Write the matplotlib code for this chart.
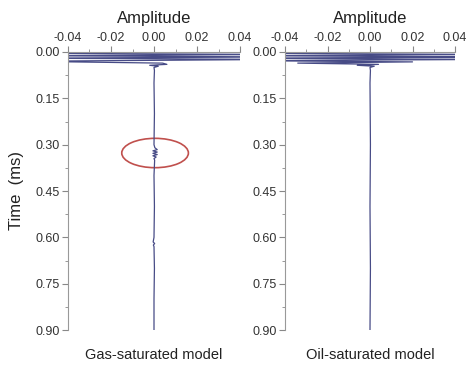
import matplotlib
matplotlib.use("Agg")
import matplotlib.pyplot as plt
from matplotlib.patches import Ellipse
from matplotlib.ticker import MultipleLocator

plt.rcParams['font.family'] = ['Liberation Sans', 'DejaVu Sans']

# gas-saturated trace: time (ms) and amplitude
gas_time = [0.000, 0.004, 0.008, 0.012, 0.016, 0.020, 0.024, 0.030, 0.036,
            0.040, 0.043, 0.046, 0.050, 0.060, 0.100, 0.200, 0.300, 0.310,
            0.316, 0.320, 0.324, 0.328, 0.332, 0.336, 0.340, 0.345, 0.350,
            0.400, 0.500, 0.600, 0.615, 0.620, 0.625, 0.630, 0.700, 0.800, 0.900]
gas_amp = [0.000, -0.060, 0.060, -0.060, 0.060, -0.060, 0.060, -0.060, 0.004,
           0.006, -0.002, 0.002, 0.000, 0.0002, 0.000, 0.0002, 0.000, 0.0004,
           0.0015, -0.0005, 0.0015, -0.0005, 0.0015, -0.0005, 0.0010, 0.000, 0.0003,
           0.000, 0.0002, 0.000, -0.0004, 0.0003, -0.0003, 0.000, 0.0002, 0.000, 0.000]

# oil-saturated trace
oil_time = [0.000, 0.004, 0.008, 0.012, 0.016, 0.020, 0.024, 0.028, 0.032,
            0.036, 0.040, 0.043, 0.046, 0.050, 0.060, 0.100, 0.300, 0.500,
            0.700, 0.900]
oil_amp = [0.000, -0.060, 0.060, -0.060, 0.060, -0.060, 0.060, -0.060, 0.020,
           -0.034, 0.004, -0.006, 0.002, 0.000, 0.0002, 0.000, 0.0002, 0.000,
           0.0002, 0.000]

x_ticks = [-0.04, -0.02, 0.00, 0.02, 0.04]
y_ticks = [0.00, 0.15, 0.30, 0.45, 0.60, 0.75, 0.90]
titles = ['Gas-saturated model', 'Oil-saturated model']

fig = plt.figure(figsize=(4.74, 3.75), dpi=100)
ax1 = fig.add_axes([68 / 474, 1 - 330 / 375, 172 / 474, 278 / 375])
ax2 = fig.add_axes([285 / 474, 1 - 330 / 375, 170 / 474, 278 / 375])

line_col = '#474b86'
for ax, t, a, name in [(ax1, gas_time, gas_amp, titles[0]),
                       (ax2, oil_time, oil_amp, titles[1])]:
    ax.plot(a, t, color=line_col, lw=0.9)
    ax.set_xlim(-0.04, 0.04)
    ax.set_ylim(0.90, 0.00)
    ax.xaxis.tick_top()
    ax.xaxis.set_label_position('top')
    ax.set_xticks(x_ticks)
    ax.set_xticklabels(['%.2f' % v for v in x_ticks])
    ax.set_yticks(y_ticks)
    ax.set_yticklabels(['%.2f' % v for v in y_ticks])
    ax.xaxis.set_minor_locator(MultipleLocator(0.01))
    ax.yaxis.set_minor_locator(MultipleLocator(0.075))
    ax.tick_params(which='both', direction='out', colors='#888888',
                   labelcolor='#333333', labelsize=9, pad=2)
    ax.tick_params(which='major', length=4)
    ax.tick_params(which='minor', length=2.5)
    for s in ['right', 'bottom']:
        ax.spines[s].set_visible(False)
    for s in ['left', 'top']:
        ax.spines[s].set_color('#999999')
        ax.spines[s].set_linewidth(0.8)
    ax.set_xlabel('Amplitude', fontsize=12, color='#222222', labelpad=6)
    ax.text(0.5, -0.065, name, transform=ax.transAxes, ha='center', va='top',
            fontsize=10.5, color='#222222')

ax1.set_ylabel('Time  (ms)', fontsize=12, color='#222222', labelpad=8)

ax1.add_patch(Ellipse((0.0005, 0.327), 0.031, 0.095, fill=False,
                      edgecolor='#c0504d', lw=1.2))

fig.savefig('out.png', dpi=100)
